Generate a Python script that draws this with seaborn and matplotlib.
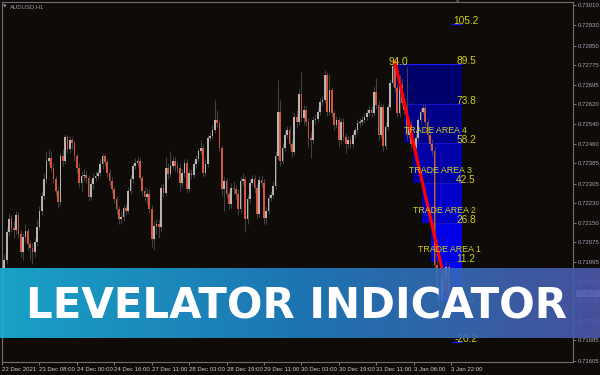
import numpy as np
import matplotlib
matplotlib.use("Agg")
import matplotlib.pyplot as plt
import seaborn as sns
from matplotlib.colors import LinearSegmentedColormap
from matplotlib.patches import Rectangle

# ---------------- data ----------------
symbol_title = "AUDUSD,H1"
banner_title = "LEVELATOR INDICATOR"
first_open = 0.71971

closes = [
    0.72003, 0.72115, 0.72163, 0.72131, 0.72123, 0.72179, 0.72107, 0.72035, 0.72095, 0.72119,
    0.72067, 0.72051, 0.72035, 0.72075, 0.72135, 0.72195, 0.72255, 0.72323, 0.72395, 0.72407,
    0.72367, 0.72323, 0.72275, 0.72231, 0.72415, 0.72395, 0.72487, 0.72443, 0.72475, 0.72467,
    0.72415, 0.72367, 0.72307, 0.72335, 0.72339, 0.72327, 0.72251, 0.72303, 0.72327, 0.72335,
    0.72347, 0.72383, 0.72415, 0.72391, 0.72347, 0.72315, 0.72283, 0.72243, 0.72203, 0.72163,
    0.72171, 0.72207, 0.72195, 0.72275, 0.72323, 0.72375, 0.72387, 0.72395, 0.72327, 0.72275,
    0.72251, 0.72263, 0.72203, 0.72087, 0.72139, 0.72147, 0.72135, 0.72287, 0.72267, 0.72367,
    0.72343, 0.72375, 0.72395, 0.72375, 0.72367, 0.72307, 0.72347, 0.72387, 0.72283, 0.72347,
    0.72339, 0.72383, 0.72403, 0.72435, 0.72447, 0.72347, 0.72383, 0.72483, 0.72491, 0.72515,
    0.72555, 0.72543, 0.72447, 0.72283, 0.72315, 0.72263, 0.72223, 0.72287, 0.72283, 0.72263,
    0.72203, 0.72315, 0.72323, 0.72163, 0.72243, 0.72307, 0.72323, 0.72287, 0.72183, 0.72319,
    0.72307, 0.72167, 0.72195, 0.72247, 0.72259, 0.72295, 0.72415, 0.72587, 0.72395, 0.72447,
    0.72495, 0.72515, 0.72463, 0.72431, 0.72567, 0.72547, 0.72659, 0.72563, 0.72595, 0.72547,
    0.72483, 0.72475, 0.72555, 0.72559, 0.72587, 0.72627, 0.72635, 0.72735, 0.72587, 0.72675,
    0.72583, 0.72535, 0.72555, 0.72475, 0.72547, 0.72487, 0.72463, 0.72475, 0.72463, 0.72495,
    0.72515, 0.72543, 0.72547, 0.72555, 0.72567, 0.72583, 0.72595, 0.72583, 0.72667, 0.72615,
    0.72495, 0.72607, 0.72455, 0.72527, 0.72607, 0.72703, 0.72771, 0.72683, 0.72583, 0.72695,
    0.72623, 0.72595, 0.72495, 0.72535, 0.72463, 0.72447, 0.72483, 0.72555, 0.72587, 0.72603,
    0.72547, 0.72495, 0.72463, 0.72435, 0.71983, 0.71875, 0.71847, 0.71947, 0.71883, 0.71975,
    0.71870,
]

highs = [
    0.72027, 0.72131, 0.72187, 0.72179, 0.72155, 0.72195, 0.72191, 0.72123, 0.72111, 0.72147,
    0.72131, 0.72083, 0.72071, 0.72091, 0.72163, 0.72215, 0.72275, 0.72347, 0.72435, 0.72443,
    0.72435, 0.72387, 0.72335, 0.72291, 0.72427, 0.72443, 0.72499, 0.72495, 0.72491, 0.72487,
    0.72475, 0.72427, 0.72387, 0.72355, 0.72363, 0.72355, 0.72339, 0.72323, 0.72347, 0.72355,
    0.72363, 0.72403, 0.72427, 0.72423, 0.72403, 0.72363, 0.72331, 0.72295, 0.72255, 0.72215,
    0.72195, 0.72219, 0.72223, 0.72291, 0.72339, 0.72387, 0.72407, 0.72415, 0.72407, 0.72339,
    0.72291, 0.72283, 0.72283, 0.72219, 0.72155, 0.72163, 0.72163, 0.72303, 0.72307, 0.72411,
    0.72387, 0.72435, 0.72415, 0.72411, 0.72395, 0.72383, 0.72363, 0.72403, 0.72403, 0.72363,
    0.72363, 0.72395, 0.72419, 0.72447, 0.72475, 0.72463, 0.72403, 0.72495, 0.72507, 0.72535,
    0.72635, 0.72595, 0.72555, 0.72459, 0.72331, 0.72327, 0.72275, 0.72307, 0.72315, 0.72299,
    0.72283, 0.72331, 0.72347, 0.72335, 0.72259, 0.72323, 0.72339, 0.72339, 0.72303, 0.72335,
    0.72339, 0.72323, 0.72211, 0.72263, 0.72275, 0.72315, 0.72435, 0.72715, 0.72635, 0.72467,
    0.72515, 0.72531, 0.72531, 0.72479, 0.72583, 0.72595, 0.72679, 0.72747, 0.72615, 0.72611,
    0.72563, 0.72507, 0.72571, 0.72579, 0.72603, 0.72643, 0.72651, 0.72755, 0.72747, 0.72739,
    0.72687, 0.72595, 0.72571, 0.72567, 0.72563, 0.72563, 0.72503, 0.72491, 0.72491, 0.72511,
    0.72527, 0.72559, 0.72563, 0.72571, 0.72583, 0.72599, 0.72611, 0.72611, 0.72691, 0.72723,
    0.72635, 0.72623, 0.72619, 0.72547, 0.72623, 0.72719, 0.72783, 0.72787, 0.72699, 0.72735,
    0.72723, 0.72643, 0.72767, 0.72555, 0.72555, 0.72479, 0.72499, 0.72571, 0.72603, 0.72619,
    0.72619, 0.72563, 0.72511, 0.72479, 0.72451, 0.72003, 0.71899, 0.71963, 0.71971, 0.71995,
    0.71991,
]

lows = [
    0.71935, 0.71987, 0.72099, 0.72115, 0.72091, 0.72107, 0.72091, 0.72015, 0.72003, 0.72075,
    0.72043, 0.72003, 0.71987, 0.72015, 0.72059, 0.72123, 0.72179, 0.72243, 0.72307, 0.72379,
    0.72355, 0.72307, 0.72255, 0.72207, 0.72215, 0.72375, 0.72383, 0.72427, 0.72427, 0.72443,
    0.72395, 0.72347, 0.72291, 0.72275, 0.72315, 0.72307, 0.72235, 0.72239, 0.72283, 0.72315,
    0.72323, 0.72335, 0.72363, 0.72375, 0.72331, 0.72299, 0.72267, 0.72227, 0.72183, 0.72147,
    0.72147, 0.72155, 0.72179, 0.72187, 0.72263, 0.72307, 0.72363, 0.72371, 0.72315, 0.72259,
    0.72235, 0.72223, 0.72187, 0.72055, 0.72043, 0.72107, 0.72091, 0.72115, 0.72251, 0.72255,
    0.72323, 0.72331, 0.72363, 0.72355, 0.72347, 0.72275, 0.72291, 0.72331, 0.72267, 0.72271,
    0.72323, 0.72327, 0.72367, 0.72391, 0.72423, 0.72331, 0.72335, 0.72371, 0.72471, 0.72479,
    0.72503, 0.72527, 0.72435, 0.72255, 0.72195, 0.72247, 0.72203, 0.72207, 0.72263, 0.72243,
    0.72179, 0.72187, 0.72299, 0.72115, 0.72147, 0.72227, 0.72299, 0.72267, 0.72167, 0.72171,
    0.72291, 0.72147, 0.72147, 0.72183, 0.72235, 0.72247, 0.72283, 0.72403, 0.72375, 0.72383,
    0.72435, 0.72483, 0.72447, 0.72411, 0.72419, 0.72523, 0.72535, 0.72547, 0.72535, 0.72531,
    0.72451, 0.72407, 0.72463, 0.72539, 0.72547, 0.72575, 0.72615, 0.72623, 0.72571, 0.72575,
    0.72567, 0.72515, 0.72523, 0.72451, 0.72463, 0.72471, 0.72427, 0.72447, 0.72447, 0.72447,
    0.72483, 0.72503, 0.72527, 0.72535, 0.72543, 0.72555, 0.72571, 0.72567, 0.72571, 0.72599,
    0.72475, 0.72483, 0.72435, 0.72443, 0.72515, 0.72595, 0.72691, 0.72667, 0.72567, 0.72567,
    0.72611, 0.72579, 0.72475, 0.72483, 0.72447, 0.72435, 0.72435, 0.72471, 0.72539, 0.72579,
    0.72531, 0.72479, 0.72451, 0.72415, 0.71963, 0.71835, 0.71815, 0.71835, 0.71867, 0.71867,
    0.71851,
]

time_labels = ["22 Dec 2021", "23 Dec 08:00", "24 Dec 00:00", "24 Dec 16:00",
               "27 Dec 11:00", "28 Dec 03:00", "28 Dec 19:00", "29 Dec 11:00",
               "30 Dec 03:00", "30 Dec 19:00", "31 Dec 11:00", "3 Jan 06:00",
               "3 Jan 22:00"]
price_ticks = [0.73010, 0.72930, 0.72850, 0.72775, 0.72695, 0.72620, 0.72540,
               0.72460, 0.72385, 0.72305, 0.72230, 0.72150, 0.72075, 0.71995,
               0.71915, 0.71840, 0.71760, 0.71685, 0.71605]
current_price = 0.71870

# Levelator levels (pips above the zero level)
level_base = 0.71882
level_values = [105.2, 89.5, 73.8, 58.2, 42.5, 26.8, 11.2, -4.5, -20.2]
trade_area_labels = ["TRADE AREA 4", "TRADE AREA 3", "TRADE AREA 2", "TRADE AREA 1"]
trade_area_levels = [58.2, 42.5, 26.8, 11.2]
leg_label = "94.0"
zz_bars = [167, 190]          # swing high bar -> swing low bar

# ---------------- style ----------------
BG = '#0e0b08'
YEL = '#d0d01c'
sns.set_theme(style="dark", rc={"axes.facecolor": BG, "figure.facecolor": BG})
plt.rcParams['font.family'] = ['Liberation Sans', 'DejaVu Sans']

fig = plt.figure(figsize=(6, 3.75), dpi=100)
ax = fig.add_axes([2 / 600, 13 / 375, 571 / 600, 360 / 375])
ax.set_facecolor(BG)
ax.grid(False)

n = len(closes)
idx = np.arange(n)
c = np.array(closes)
o = np.array([first_open] + closes[:-1])
up = c >= o
body_col = np.where(up, '#b4b4b4', '#d4553b')

# candles
ax.vlines(idx, lows, highs, color='#4c4c4c', lw=0.6, zorder=3)
ax.bar(idx, c - o, bottom=o, width=0.72, color=body_col, linewidth=0, zorder=4)


def lvl(v):
    return level_base + v / 10000.0


peak, end = zz_bars
H = highs[peak]
L = lows[end]
box_right = 195.5
band_vals = level_values[1:8]
band_colors = ['#00006a', '#000088', '#0000a8', '#0000c8', '#0000e6', '#0000ff']
for k in range(len(band_vals) - 1):
    top = lvl(band_vals[k])
    bot = lvl(band_vals[k + 1])
    start = max(peak, peak + (H - top) / (H - L) * (end - peak))
    ax.add_patch(Rectangle((start, bot), box_right - start, top - bot,
                           facecolor=band_colors[k], lw=0, zorder=1))
    ax.hlines(top, start, box_right, color='#1a1aff' if k == 0 else '#1414c8',
              lw=0.8, zorder=2)
for v in (level_values[0], level_values[-1]):
    ax.hlines(lvl(v), 191.5, box_right, color='#1a1aff', lw=0.9, zorder=2)

# level labels
for v in level_values:
    ax.text(197.4, lvl(v), f"{v:.1f}", ha='center', va='baseline', color=YEL,
            fontsize=7.3, zorder=6)

# trade area labels
ta_x = [184.4, 186.3, 188.2, 190.2]
for lab, lv, xx in zip(trade_area_labels, trade_area_levels, ta_x):
    ax.annotate(lab, (xx, lvl(lv)), xytext=(0, 7.3), textcoords='offset points',
                ha='center', va='baseline', color=YEL, fontsize=6.4, zorder=6)

# zigzag leg
sns.lineplot(x=[peak, end], y=[H, L], color='#ff0000', lw=2.3, ax=ax,
             zorder=5, legend=False)
ax.annotate(leg_label, (peak, H), xytext=(2.3, -2.2), textcoords='offset points',
            ha='center', va='baseline', color=YEL, fontsize=7.3, zorder=6)

# axes
ax.set_xlim(-0.855, 243.16)
ax.set_ylim(0.71600, 0.73022)
ax.set_xlabel("")
ax.set_ylabel("")
ax.yaxis.tick_right()
ax.set_yticks(price_ticks)
ax.set_yticklabels([f"{v:.5f}" for v in price_ticks])
ax.tick_params(axis='y', which='both', right=True, left=False, direction='out',
               length=2, width=0.6, color='#8a8a8a', labelcolor='#a4a4b4',
               labelsize=4.3, pad=1.5)
xt = np.arange(-1, -1 + 16 * len(time_labels), 16)
ax.set_xticks(xt)
ax.set_xticklabels(time_labels)
ax.tick_params(axis='x', bottom=True, direction='out', length=2, width=0.6,
               color='#8a8a8a', labelcolor='#cccccc', labelsize=4.3, pad=1.5)
for lab in ax.get_xticklabels():
    lab.set_ha('left')
for s in ax.spines.values():
    s.set_visible(True)
    s.set_color('#707070')
    s.set_linewidth(0.8)

# current price marker
ax.annotate(f"{current_price:.5f}", (1, current_price), xycoords=('axes fraction', 'data'),
            xytext=(3, 0), textcoords='offset points', ha='left', va='center',
            fontsize=4.3, color='#202020', annotation_clip=False,
            bbox=dict(boxstyle='square,pad=0.15', fc='#c8c8c8', ec='none'))

# title
fig.text(4.8 / 600, 1 - 6.5 / 375, "\u25BC", fontsize=3.2, color='#9a9aaa',
         va='center', ha='center', family='DejaVu Sans')
fig.text(10 / 600, 1 - 6.5 / 375, symbol_title, fontsize=4.2, color='#9a9aaa',
         va='center', ha='left')
fig.text(458 / 600, 1 - 2.5 / 375, "\u25BC", fontsize=3.0, color='#6a6a7a',
         va='center', ha='center', family='DejaVu Sans')

# banner
bax = fig.add_axes([0, 1 - 338 / 375, 1, 70 / 375], zorder=10)
cmap = LinearSegmentedColormap.from_list('banner', ['#1bb3dc', '#1f81c6', '#4c59ad'])
bax.imshow(np.linspace(0, 1, 300)[None, :], cmap=cmap, aspect='auto',
           extent=(0, 1, 0, 1), alpha=0.9)
bax.set_xlim(0, 1)
bax.set_ylim(0, 1)
bax.axis('off')
t = bax.text(25.5 / 600, (338 - 318.3) / 70, banner_title, color='white', fontsize=30,
             fontweight='bold', family='DejaVu Sans', ha='left', va='baseline')
fig.canvas.draw()
w = t.get_window_extent(renderer=fig.canvas.get_renderer()).width
t.set_fontsize(30 * 541 / w)

fig.savefig('out.png', dpi=100, facecolor=BG)
